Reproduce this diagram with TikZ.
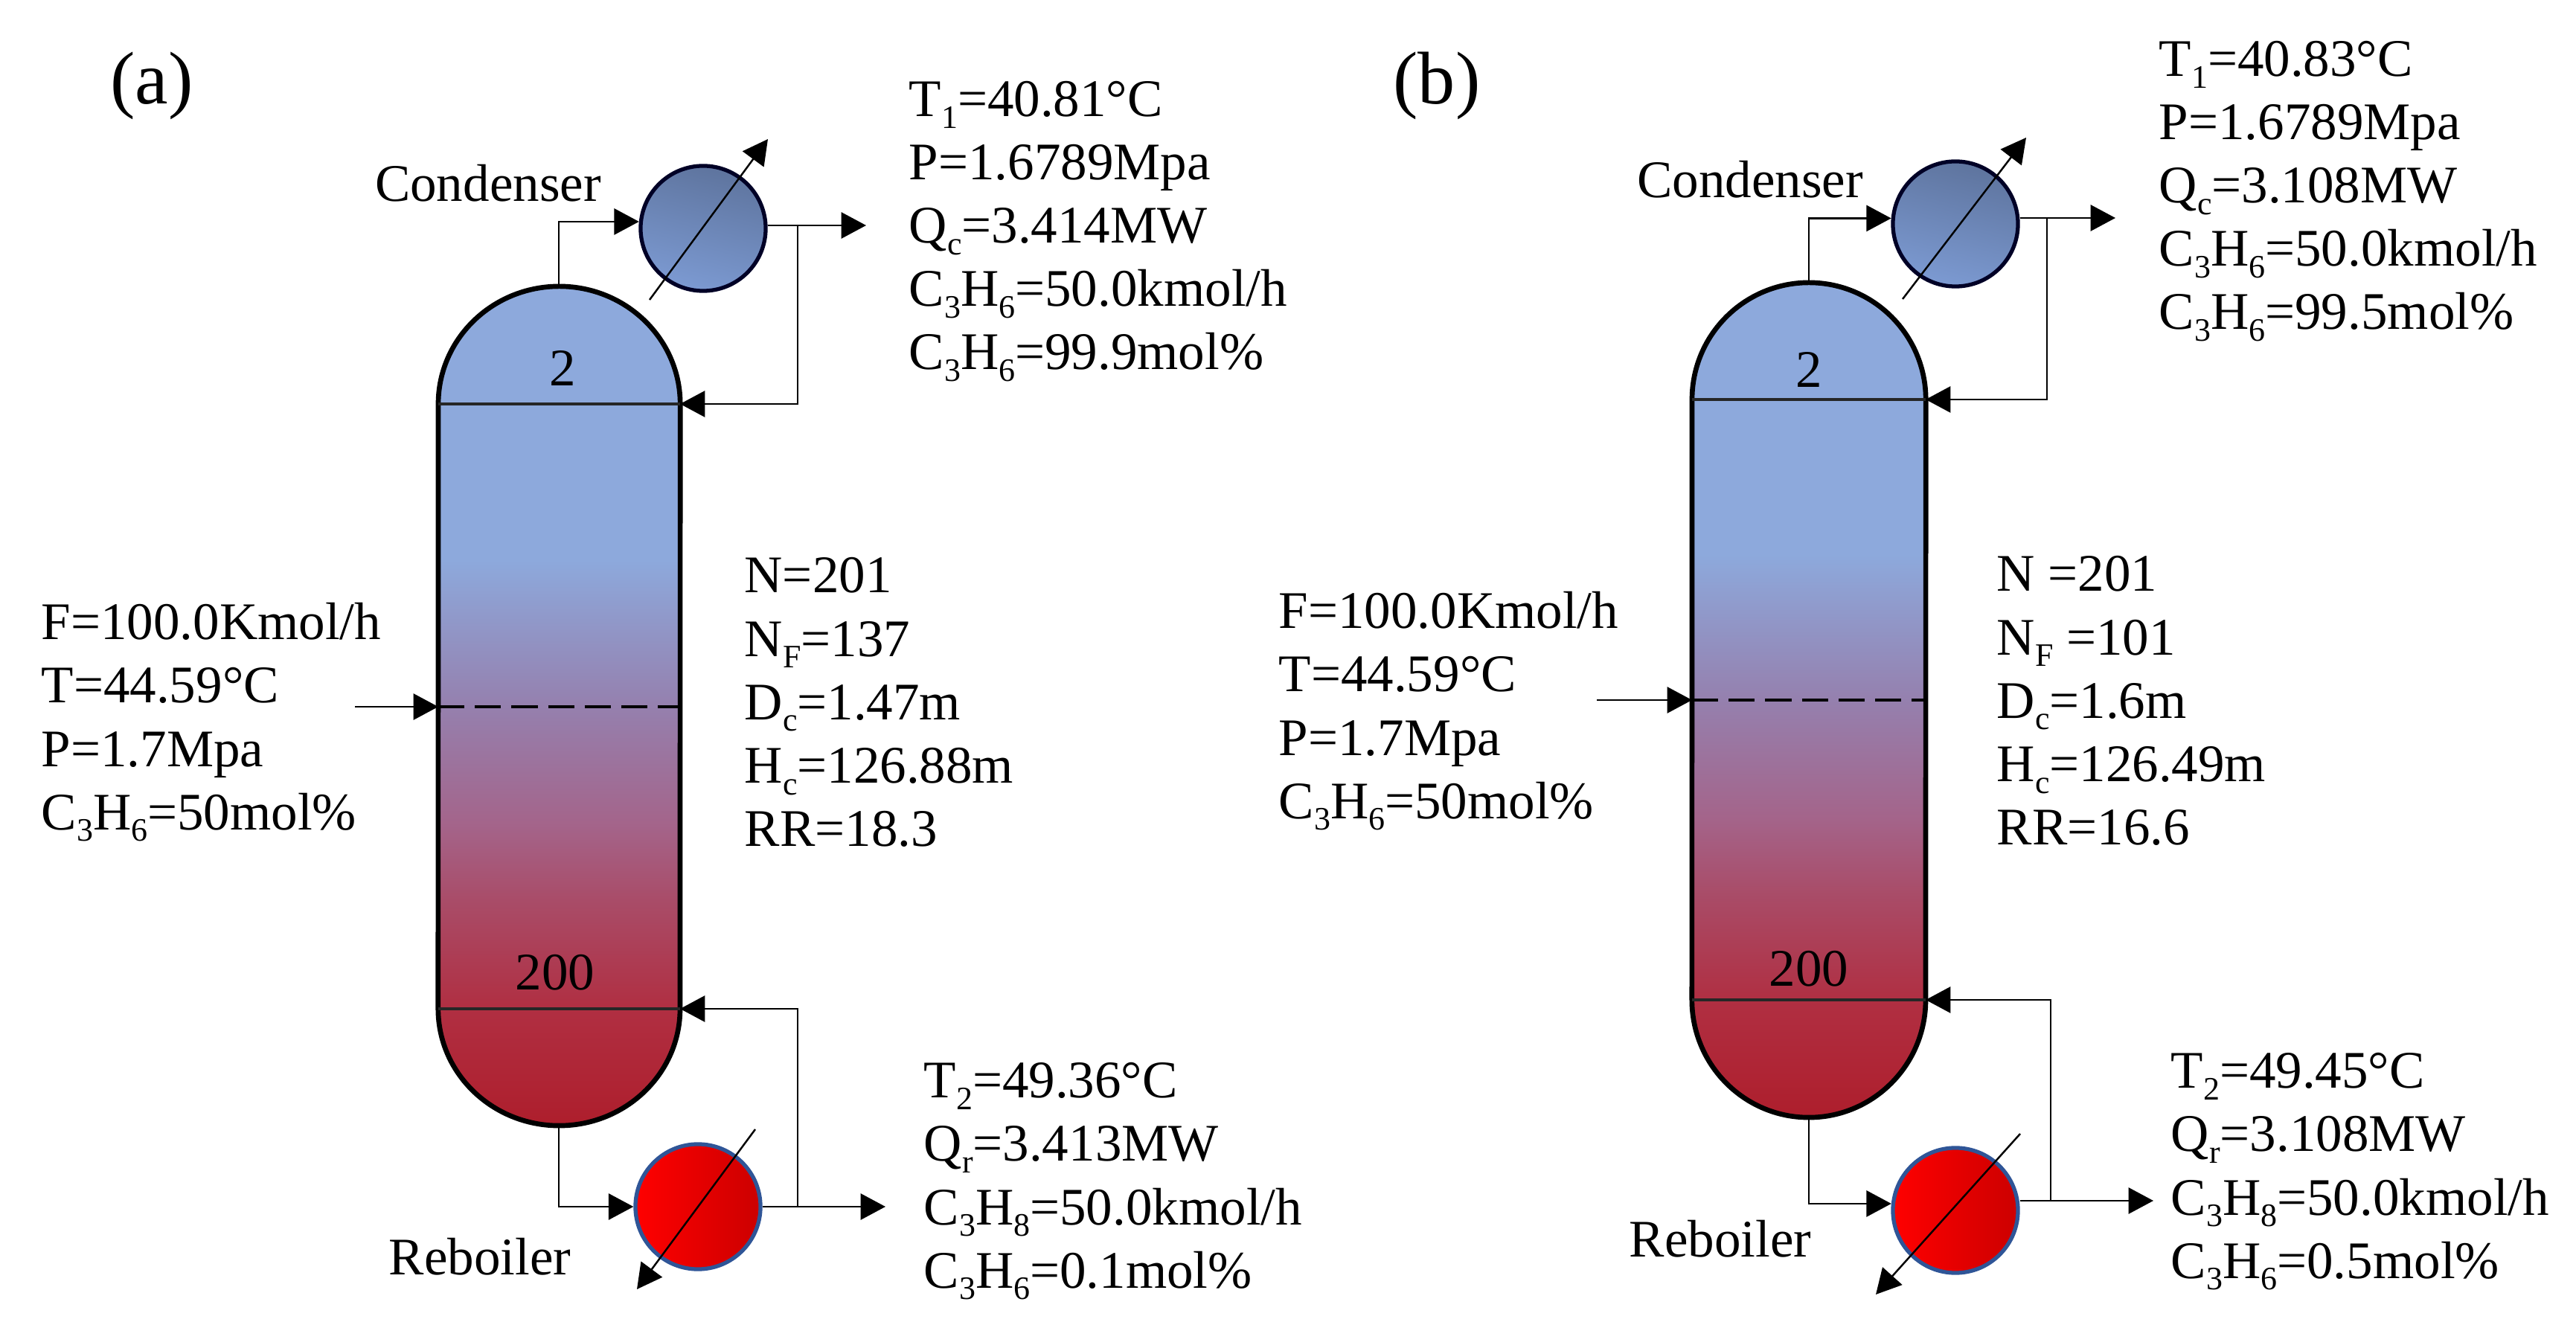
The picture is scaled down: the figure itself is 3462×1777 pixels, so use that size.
\documentclass[tikz,border=0pt]{standalone}
\usepackage{fontspec}
\setmainfont{Liberation Serif}
\usetikzlibrary{arrows.meta}
\definecolor{colblue}{HTML}{8DA9DC}
\definecolor{colmid}{HTML}{9580AE}
\definecolor{colmix}{HTML}{A4648A}
\definecolor{colrose}{HTML}{A94C68}
\definecolor{colred}{HTML}{B02F42}
\definecolor{colbot}{HTML}{AE1E2C}
\definecolor{conddark}{HTML}{5E749E}
\definecolor{condlight}{HTML}{7C9AD2}
\definecolor{rebedge}{HTML}{2F5597}
\pgfdeclareverticalshading{colgrad}{100bp}{color(0bp)=(colbot); color(25bp)=(colbot); color(32bp)=(colred); color(38.4bp)=(colrose); color(42.9bp)=(colmix); color(50bp)=(colmid); color(58.7bp)=(colblue); color(75bp)=(colblue); color(100bp)=(colblue)}
\tikzset{
  column/.style={draw=black,line width=1.9pt,shading=colgrad},
  condenser/.style={circle,draw=black!85!blue,line width=1.5pt,minimum size=1.68cm,inner sep=0pt,top color=conddark,bottom color=condlight,shading angle=-15},
  reboiler/.style={circle,draw=rebedge,line width=1.5pt,minimum size=1.68cm,inner sep=0pt,left color=red,right color=red!80!black},
  flow/.style={-{Triangle[length=9.5pt,width=10pt]},line width=0.7pt},
  tray/.style={line width=0.9pt,draw=black!85},
  feedline/.style={line width=1.2pt,dash pattern=on 10pt off 4pt},
  txt/.style={inner sep=0pt,font=\fontsize{20.2}{24.2}\selectfont},
  block/.style={txt,anchor=west,align=left},
  tag/.style={inner sep=0pt,font=\fontsize{28.5}{32}\selectfont}
}
\newcommand{\sbs}[1]{\raisebox{-4.5pt}{\fontsize{12.5}{12.5}\selectfont #1}}
\begin{document}
\begin{tikzpicture}[x=0.01cm,y=-0.01cm]
  \useasboundingbox (0,0) rectangle (3462,1777);

  \coordinate (topA) at (751,385);
  \coordinate (upA) at (589,543);
  \coordinate (refluxA) at (914,543);
  \coordinate (lowA) at (589,1356);
  \coordinate (boilA) at (914,1356);
  \coordinate (botA) at (751,1513);
  \coordinate (dashlA) at (589,950);
  \coordinate (dashrA) at (914,950);
  \coordinate (feedA) at (477,950);
  \coordinate (splitA) at (1072,303);
  \coordinate (outA) at (1164,303);
  \coordinate (splitrA) at (1072,1622);
  \coordinate (outrA) at (1190,1622);
  \path[column] (upA) arc[start angle=180,end angle=0,x radius=1.625cm,y radius=1.58cm] -- (boilA) arc[start angle=0,end angle=-180,x radius=1.625cm,y radius=1.57cm] -- cycle;
  \draw[tray] (upA) -- (refluxA);
  \draw[tray] (lowA) -- (boilA);
  \draw[feedline] (dashlA) -- (dashrA);
  \node[condenser] (condA) at (945,307) {};
  \node[reboiler] (rebA) at (938,1622) {};
  \coordinate (cdlA) at (873,403);
  \coordinate (cduA) at (1032,187);
  \coordinate (rbuA) at (1015,1518);
  \coordinate (rblA) at (856,1733);
  \draw[flow] (cdlA) -- (cduA);
  \draw[flow] (rbuA) -- (rblA);
  \draw[flow] (topA) |- (condA.174);
  \draw[flow] (condA.east |- outA) -- (outA);
  \draw[flow] (splitA) |- (refluxA);
  \draw[flow] (botA) |- (rebA.west);
  \draw[flow] (rebA.east) -- (outrA);
  \draw[flow] (splitrA) |- (boilA);
  \draw[flow] (feedA) -- (dashlA);
  \node[tag] (labA) at (204,115) {(a)};
  \node[txt] (nameCA) at (656,246) {Condenser};
  \node[txt] (nameRA) at (645,1689) {Reboiler};
  \node[txt] (twoA) at (756,495) {2};
  \node[txt] (lastA) at (746,1307) {200};
  \node[block] (topinfoA) at (1221,311) {T\sbs{1}=40.81°C\\P=1.6789Mpa\\Q\sbs{c}=3.414MW\\C\sbs{3}H\sbs{6}=50.0kmol/h\\C\sbs{3}H\sbs{6}=99.9mol\%};
  \node[block] (midinfoA) at (1000,944) {N=201\\N\sbs{F}=137\\D\sbs{c}=1.47m\\H\sbs{c}=126.88m\\RR=18.3};
  \node[block] (feedinfoA) at (55,971) {F=100.0Kmol/h\\T=44.59°C\\P=1.7Mpa\\C\sbs{3}H\sbs{6}=50mol\%};
  \node[block] (botinfoA) at (1241,1588) {T\sbs{2}=49.36°C\\Q\sbs{r}=3.413MW\\C\sbs{3}H\sbs{8}=50.0kmol/h\\C\sbs{3}H\sbs{6}=0.1mol\%};

  \coordinate (topB) at (2431,380);
  \coordinate (upB) at (2274,537);
  \coordinate (refluxB) at (2588,537);
  \coordinate (lowB) at (2274,1344);
  \coordinate (boilB) at (2588,1344);
  \coordinate (botB) at (2431,1502);
  \coordinate (dashlB) at (2274,941);
  \coordinate (dashrB) at (2588,941);
  \coordinate (feedB) at (2146,941);
  \coordinate (splitB) at (2751,293);
  \coordinate (outB) at (2843,293);
  \coordinate (splitrB) at (2756,1614);
  \coordinate (outrB) at (2894,1614);
  \path[column] (upB) arc[start angle=180,end angle=0,x radius=1.57cm,y radius=1.57cm] -- (boilB) arc[start angle=0,end angle=-180,x radius=1.57cm,y radius=1.58cm] -- cycle;
  \draw[tray] (upB) -- (refluxB);
  \draw[tray] (lowB) -- (boilB);
  \draw[feedline] (dashlB) -- (dashrB);
  \node[condenser] (condB) at (2628,301) {};
  \node[reboiler] (rebB) at (2628,1627) {};
  \coordinate (cdlB) at (2557,402);
  \coordinate (cduB) at (2723,185);
  \coordinate (rbuB) at (2715,1524);
  \coordinate (rblB) at (2521,1740);
  \draw[flow] (cdlB) -- (cduB);
  \draw[flow] (rbuB) -- (rblB);
  \draw[flow] (topB) |- (condB.175);
  \draw[flow] (condB.east |- outB) -- (outB);
  \draw[flow] (splitB) |- (refluxB);
  \draw[flow] (botB) |- (rebB.174);
  \draw[flow] (rebB.east |- outrB) -- (outrB);
  \draw[flow] (splitrB) |- (boilB);
  \draw[flow] (feedB) -- (dashlB);
  \node[tag] (labB) at (1931,115) {(b)};
  \node[txt] (nameCB) at (2352,241) {Condenser};
  \node[txt] (nameRB) at (2312,1665) {Reboiler};
  \node[txt] (twoB) at (2431,497) {2};
  \node[txt] (lastB) at (2431,1302) {200};
  \node[block] (topinfoB) at (2901,257) {T\sbs{1}=40.83°C\\P=1.6789Mpa\\Q\sbs{c}=3.108MW\\C\sbs{3}H\sbs{6}=50.0kmol/h\\C\sbs{3}H\sbs{6}=99.5mol\%};
  \node[block] (midinfoB) at (2683,942) {N =201\\N\sbs{F} =101\\D\sbs{c}=1.6m\\H\sbs{c}=126.49m\\RR=16.6};
  \node[block] (feedinfoB) at (1718,956) {F=100.0Kmol/h\\T=44.59°C\\P=1.7Mpa\\C\sbs{3}H\sbs{6}=50mol\%};
  \node[block] (botinfoB) at (2917,1575) {T\sbs{2}=49.45°C\\Q\sbs{r}=3.108MW\\C\sbs{3}H\sbs{8}=50.0kmol/h\\C\sbs{3}H\sbs{6}=0.5mol\%};
\end{tikzpicture}
\end{document}
